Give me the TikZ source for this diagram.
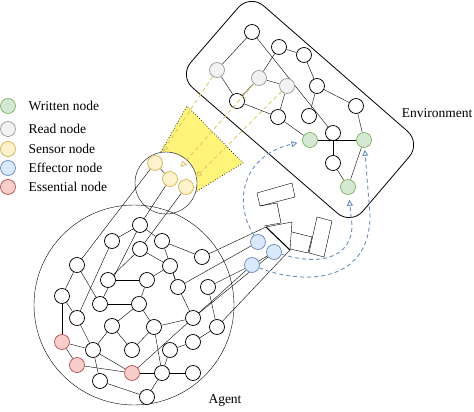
\documentclass[tikz,border=0pt]{standalone}
\usepackage{fontspec}
\setmainfont{Liberation Serif}
\usetikzlibrary{arrows.meta,backgrounds}

\definecolor{wfill}{HTML}{D5E8D4}
\definecolor{wdraw}{HTML}{82B366}
\definecolor{rfill}{HTML}{F2F2F2}
\definecolor{rdraw}{HTML}{9E9E9E}
\definecolor{sfill}{HTML}{FFF2CC}
\definecolor{sdraw}{HTML}{D6B656}
\definecolor{sline}{HTML}{E3C865}
\definecolor{efill}{HTML}{DAE8FC}
\definecolor{edraw}{HTML}{6C8EBF}
\definecolor{xfill}{HTML}{F8CECC}
\definecolor{xdraw}{HTML}{B85450}
\definecolor{conefill}{HTML}{FFF47A}

\begin{document}
\begin{tikzpicture}[x=1pt, y=-1pt, line width=0.75pt,
                    every node/.style={font=\fontsize{13.5}{16}\selectfont},
                    nd/.style={circle, draw, fill=white, minimum size=15pt, inner sep=0pt},
                    write/.style={nd, fill=wfill, draw=wdraw},
                    read/.style={nd, fill=rfill, draw=rdraw},
                    sense/.style={nd, fill=sfill, draw=sdraw},
                    effect/.style={nd, fill=efill, draw=edraw},
                    essential/.style={nd, fill=xfill, draw=xdraw},
                    effline/.style={draw=edraw, dash pattern=on 4pt off 3pt, line width=0.9pt,
                                    -{Triangle[open, length=6pt, width=6pt]}},
                    senseline/.style={draw=sline, dash pattern=on 4pt off 3pt, line width=0.9pt,
                                    -{Triangle[open, length=6pt, width=6pt]}}]
    \useasboundingbox (0,0) rectangle (474,412);
    %\draw[help lines] (0,0) grid[step=20] (474,412);

   % legend
   \node[write] (lw) at (8,106) {};
   \node[read] (lr) at (8,129) {};
   \node[sense] (ls) at (8,149) {};
   \node[effect] (le) at (8,168) {};
   \node[essential] (lx) at (8,187) {};
   \node[anchor=west] (lwt) at (25,106) {Written node};
   \node[anchor=west] (lrt) at (25,129) {Read node};
   \node[anchor=west] (lst) at (25,149) {Sensor node};
   \node[anchor=west] (let) at (25,168) {Effector node};
   \node[anchor=west] (lxt) at (25,187) {Essential node};

   % environment
   \node[nd] (e1) at (252,32) {};
   \node[nd] (e2) at (279,47) {};
   \node[nd] (e3) at (304,55) {};
   \node[read] (e4) at (217,70) {};
   \node[read] (e5) at (259,78) {};
   \node[read] (e6) at (287,86) {};
   \node[nd] (e7) at (317,86) {};
   \node[nd] (e8) at (237,101) {};
   \node[nd] (e9) at (356,106) {};
   \node[nd] (e10) at (309,116) {};
   \node[nd] (e11) at (278,117) {};
   \node[nd] (e12) at (333,133) {};
   \node[write] (e13) at (310,140) {};
   \node[write] (e14) at (364,140) {};
   \node[nd] (e15) at (333,163) {};
   \node[write] (e16) at (348,187) {};
   \node (envlbl) at (437,113) {Environment};

   % sensor
   \node[sense] (s1) at (155,163) {};
   \node[sense] (s2) at (170,179) {};
   \node[sense] (s3) at (186,187) {};

   % effector
   \node[effect] (b1) at (258,242) {};
   \node[effect] (b2) at (274,252) {};
   \node[effect] (b3) at (252,265) {};

   % agent
   \node[nd] (a1) at (140,225) {};
   \node[nd] (a2) at (112,241) {};
   \node[nd] (a3) at (162,241) {};
   \node[nd] (a4) at (140,249) {};
   \node[nd] (a5) at (202,257) {};
   \node[nd] (a6) at (77,265) {};
   \node[nd] (a7) at (170,266) {};
   \node[nd] (a8) at (108,280) {};
   \node[nd] (a9) at (147,280) {};
   \node[nd] (a10) at (178,287) {};
   \node[nd] (a11) at (208,287) {};
   \node[nd] (a12) at (62,296) {};
   \node[nd] (a13) at (100,304) {};
   \node[nd] (a14) at (139,304) {};
   \node[nd] (a15) at (77,318) {};
   \node[nd] (a16) at (112,326) {};
   \node[nd] (a17) at (154,327) {};
   \node[nd] (a18) at (193,318) {};
   \node[nd] (a19) at (217,327) {};
   \node[essential] (a20) at (62,342) {};
   \node[nd] (a21) at (93,350) {};
   \node[nd] (a22) at (132,350) {};
   \node[nd] (a23) at (170,350) {};
   \node[nd] (a24) at (193,342) {};
   \node[essential] (a25) at (77,365) {};
   \node[essential] (a26) at (132,373) {};
   \node[nd] (a27) at (162,373) {};
   \node[nd] (a28) at (193,373) {};
   \node[nd] (a29) at (100,381) {};
   \node[nd] (a30) at (147,397) {};
   \node (agentlbl) at (225,400) {Agent};

   \begin{scope}[on background layer]
   \draw[rounded corners=18pt, line width=0.8pt] (250,-6) -- (421,143) -- (351,225) -- (179,76) -- cycle;
   \draw[fill=conefill, dotted, line width=0.7pt] (161,152) -- (187,106) -- (243,163) -- (194,193);
   \fill[white] (166,183) circle[radius=31];
   \draw (134,305) circle[radius=100];
   \draw (166,183) circle[radius=31];
   % robot arm
   \draw (257,193) -- (292,183) -- (295,197) -- (260,206) -- cycle;
   \draw (260,206) -- (277,203) -- (281,223) -- (264,226);
   \draw (266,227) -- (292,222) -- (290,250);
   \draw[line width=1.1pt] (266,227) -- (290,250);
   \draw (292,232) -- (312,237) -- (308,253) -- (290,249);
   \draw (317,217) -- (332,221) -- (324,257) -- (309,253) -- cycle;
   \draw (266,227) -- (a5);
   \draw (290,250) -- (a19);

   % Define connections
   \path[every edge/.style={draw}]
   (e1) edge (e4) (e1) edge (e12) (e2) edge (e3) (e2) edge (e5)
   (e3) edge (e7) (e4) edge (e8) (e5) edge (e6) (e5) edge (e8)
   (e6) edge (e11) (e7) edge (e9) (e7) edge (e10) (e8) edge (e11)
   (e11) edge (e13) (e13) edge (e14) (e12) edge (e15) (e9) edge (e14)
   (e15) edge (e16) (e14) edge (e16)
   (s1) edge (s2) (s1) edge (a6) (s2) edge (a1) (s3) edge (a4)
   (a1) edge (a2) (a1) edge (a3) (a1) edge (a13) (a2) edge (a15)
   (a3) edge (a5) (a3) edge (a10) (a4) edge (a7) (a4) edge (a8)
   (a6) edge (a12) (a6) edge (a13) (a7) edge (a9) (a7) edge (a10)
   (a8) edge (a9) (a9) edge (a14) (a13) edge (a14) (a12) edge (a15)
   (a12) edge (a20) (a14) edge (a16) (a14) edge (a17) (a15) edge (a21)
   (a16) edge (a21) (a16) edge (a22) (a17) edge (a18) (a17) edge (a22)
   (a17) edge (a27) (a10) edge (a18) (a11) edge (a19) (a24) edge (a19)
   (a20) edge (a25) (a20) edge (a21) (a21) edge (a26) (a21) edge (a29)
   (a25) edge (a26) (a26) edge (a27) (a23) edge (a24) (a23) edge (a27)
   (a27) edge (a28) (a27) edge (a30) (a29) edge (a30)
   (b1) edge (a10) (b3) edge (a11) (b3) edge (a26) (b2) edge (b3) (b2) edge (a18);
   \end{scope}

   % read / act
   \draw[senseline, shorten >=6pt] (e4) -- (s1);
   \draw[senseline, shorten >=8pt] (e5) -- (s2);
   \draw[senseline, shorten >=6pt] (e6) -- (s3);
   \draw[effline, shorten >=5pt] (b1) .. controls (232,200) and (244,155) .. (e13);
   \draw[effline, shorten >=2pt] (b3) .. controls (300,284) and (370,286) .. (370,215) -- (e14);
   \draw[effline, shorten >=5pt] (b2) .. controls (320,266) and (352,258) .. (352,225) -- (e16);
\end{tikzpicture}
\end{document}
